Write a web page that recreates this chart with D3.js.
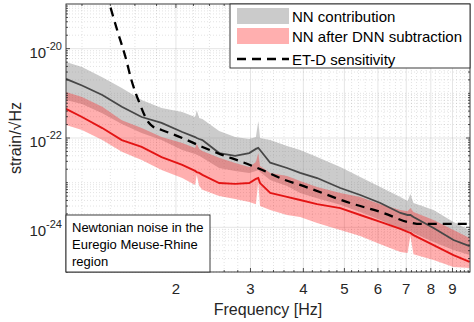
<!DOCTYPE html>
<html>
<head>
<meta charset="utf-8">
<script src="https://cdn.jsdelivr.net/npm/d3@7"></script>
<style>
  body { margin: 0; background: #fff; }
  svg { display: block; font-family: "Liberation Sans", Arial, sans-serif; }
</style>
</head>
<body>
<script>
const w = 474
const h = 322

// frequency grid [Hz] shared by the noise curves
const freq = [1.10, 1.20, 1.34, 1.49, 1.66, 1.85, 2.07, 2.22, 2.24, 2.27,
    2.31, 2.53, 2.76, 2.98, 3.09, 3.13, 3.16, 3.34, 3.66, 3.93,
    4.31, 4.89, 5.45, 6.08, 6.78, 7.05, 7.16, 7.28, 8.12, 9.05, 9.88]

// NN contribution: median and band
const nnMedian = [2.1e-21, 1.5e-21, 9.2e-22, 5.0e-22, 2.95e-22, 2.17e-22, 1.36e-22, 1.05e-22, 1.0e-22, 9.5e-23,
    9.0e-23, 4.6e-23, 4.0e-23, 4.6e-23, 5.7e-23, 6.0e-23, 5.4e-23, 2.8e-23, 2.13e-23, 1.65e-23,
    1.27e-23, 7.6e-24, 5.3e-24, 3.5e-24, 2.1e-24, 1.89e-24, 1.89e-24, 1.70e-24, 9.7e-25, 5.2e-25, 3.8e-25]
const nnUpper = [5.0e-21, 3.9e-21, 2.3e-21, 1.32e-21, 7.1e-22, 4.7e-22, 3.8e-22, 2.95e-22, 4.2e-22, 2.8e-22,
    2.66e-22, 1.43e-22, 1.05e-22, 9.5e-23, 1.05e-22, 2.4e-22, 1.0e-22, 9.0e-23, 6.6e-23, 5.4e-23,
    3.75e-23, 2.24e-23, 1.34e-23, 8.0e-24, 4.8e-24, 3.9e-24, 5.6e-24, 3.5e-24, 2.45e-24, 1.32e-24, 8.7e-25]
const nnLower = [7.1e-22, 5.8e-22, 3.6e-22, 2.06e-22, 1.29e-22, 9.0e-23, 5.4e-23, 4.4e-23, 4.2e-23, 4.0e-23,
    3.6e-23, 2.13e-23, 1.83e-23, 1.65e-23, 1.83e-23, 1.92e-23, 1.73e-23, 1.15e-23, 8.4e-24, 5.9e-24,
    4.5e-24, 3.2e-24, 2.2e-24, 1.46e-24, 9.2e-25, 8.3e-25, 8.3e-25, 7.5e-25, 4.7e-25, 3.1e-25, 2.4e-25]

// NN after DNN subtraction: median and band
const dnnMedian = [4.5e-22, 2.95e-22, 1.67e-22, 9.0e-23, 6.3e-23, 3.75e-23, 2.5e-23, 1.83e-23, 1.73e-23, 1.65e-23,
    1.49e-23, 9.8e-24, 9.4e-24, 9.8e-24, 1.21e-23, 1.27e-23, 9.8e-24, 5.9e-24, 4.8e-24, 4.1e-24,
    3.3e-24, 2.7e-24, 1.89e-24, 1.32e-24, 9.2e-25, 7.9e-25, 7.5e-25, 6.7e-25, 4.0e-25, 2.4e-25, 1.68e-25]
const dnnUpper = [1.07e-21, 8.3e-22, 5.0e-22, 2.5e-22, 1.67e-22, 1.05e-22, 7.7e-23, 6.0e-23, 7.4e-23, 5.7e-23,
    5.1e-23, 3.6e-23, 2.76e-23, 2.24e-23, 2.9e-23, 4.6e-23, 2.36e-23, 1.65e-23, 1.41e-23, 1.09e-23,
    8.0e-24, 5.9e-24, 4.8e-24, 3.3e-24, 2.45e-24, 2.3e-24, 2.7e-24, 2.2e-24, 1.46e-24, 8.7e-25, 5.8e-25]
const dnnLower = [1.95e-22, 1.51e-22, 9.0e-23, 4.9e-23, 3.2e-23, 1.92e-23, 1.27e-23, 8.9e-24, 1.49e-23, 8.4e-24,
    6.9e-24, 5.0e-24, 4.3e-24, 3.7e-24, 3.3e-24, 1.04e-23, 3.0e-24, 2.45e-24, 1.89e-24, 1.70e-24,
    1.25e-24, 8.7e-25, 6.4e-25, 4.2e-25, 2.8e-25, 2.66e-25, 6.4e-25, 2.5e-25, 1.86e-25, 1.30e-25, 1.23e-25]

// ET-D sensitivity curve
const etdFreq = [1.37, 1.46, 1.52, 1.57, 1.64, 1.72, 1.77, 1.85, 2.07, 2.31,
    2.57, 2.87, 3.20, 3.62, 3.93, 5.16, 6.18, 7.05, 7.56, 9.88]
const etdStrain = [1.76e-19, 2.24e-20, 6.5e-21, 1.99e-21, 6.1e-22, 2.28e-22, 1.76e-22, 1.51e-22, 1.0e-22, 6.3e-23,
    4.2e-23, 2.9e-23, 1.92e-23, 1.15e-23, 8.9e-24, 3.5e-24, 2.1e-24, 1.32e-24, 1.19e-24, 1.19e-24]

const xTicks = [2, 3, 4, 5, 6, 7, 8, 9]
const yTickExp = [-24, -22, -20]
const legendLabels = ["NN contribution", "NN after DNN subtraction", "ET-D sensitivity"]
const noteLines = ["Newtonian noise in the", "Euregio Meuse-Rhine", "region"]

const plot = { left: 66, top: 4, right: 470, bottom: 272 }
const axisColor = "#262626"

const svg = d3.select("body").append("svg")
    .attr("width", w)
    .attr("height", h)

const x = d3.scaleLog().domain([1.1, 9.9]).range([plot.left, plot.right])
const y = d3.scaleLog().domain([1e-25, 1e-19]).range([plot.bottom, plot.top])

svg.append("clipPath").attr("id", "clip")
    .append("rect")
    .attr("x", plot.left).attr("y", plot.top)
    .attr("width", plot.right - plot.left).attr("height", plot.bottom - plot.top)

// minor positions
let xMinor = []
for (let v = 1.2; v < 9.9; v += 0.2) {
    let r = Math.round(v * 10) / 10
    if (r % 1 !== 0) xMinor.push(r)
}
let yMinor = []
for (let e = -25; e < -19; e++) {
    for (let m = 1; m < 10; m++) {
        if (m === 1 && yTickExp.includes(e)) continue
        yMinor.push(m * Math.pow(10, e))
    }
}

const grid = svg.append("g")
grid.selectAll(".xminor").data(xMinor).enter().append("line")
    .attr("x1", d => x(d)).attr("x2", d => x(d))
    .attr("y1", plot.top).attr("y2", plot.bottom)
    .attr("stroke", axisColor).attr("stroke-opacity", 0.22)
    .attr("stroke-width", 0.6).attr("stroke-dasharray", "1,2")
grid.selectAll(".yminor").data(yMinor).enter().append("line")
    .attr("x1", plot.left).attr("x2", plot.right)
    .attr("y1", d => y(d)).attr("y2", d => y(d))
    .attr("stroke", axisColor).attr("stroke-opacity", 0.22)
    .attr("stroke-width", 0.6).attr("stroke-dasharray", "1,2")
grid.selectAll(".xmajor").data(xTicks).enter().append("line")
    .attr("x1", d => x(d)).attr("x2", d => x(d))
    .attr("y1", plot.top).attr("y2", plot.bottom)
    .attr("stroke", axisColor).attr("stroke-opacity", 0.15).attr("stroke-width", 0.8)
grid.selectAll(".ymajor").data(yTickExp).enter().append("line")
    .attr("x1", plot.left).attr("x2", plot.right)
    .attr("y1", d => y(Math.pow(10, d))).attr("y2", d => y(Math.pow(10, d)))
    .attr("stroke", axisColor).attr("stroke-opacity", 0.15).attr("stroke-width", 0.8)

const rows = freq.map((f, i) => ({
    f: f,
    nn: nnMedian[i], nnHi: nnUpper[i], nnLo: nnLower[i],
    dnn: dnnMedian[i], dnnHi: dnnUpper[i], dnnLo: dnnLower[i]
}))
const etd = etdFreq.map((f, i) => ({ f: f, v: etdStrain[i] }))

const g = svg.append("g").attr("clip-path", "url(#clip)")

const band = (hi, lo) => d3.area()
    .x(d => x(d.f))
    .y0(d => y(d[lo]))
    .y1(d => y(d[hi]))

g.append("path").datum(rows)
    .attr("d", band("nnHi", "nnLo"))
    .attr("fill", "#8c8c8c").attr("fill-opacity", 0.45)
g.append("path").datum(rows)
    .attr("d", band("dnnHi", "dnnLo"))
    .attr("fill", "#ff2020").attr("fill-opacity", 0.36)

g.append("path").datum(rows)
    .attr("d", d3.line().x(d => x(d.f)).y(d => y(d.nn)))
    .attr("fill", "none").attr("stroke", "#474747").attr("stroke-width", 1.8)
g.append("path").datum(rows)
    .attr("d", d3.line().x(d => x(d.f)).y(d => y(d.dnn)))
    .attr("fill", "none").attr("stroke", "#e31414").attr("stroke-width", 1.9)
g.append("path").datum(etd)
    .attr("d", d3.line().curve(d3.curveMonotoneX).x(d => x(d.f)).y(d => y(d.v)))
    .attr("fill", "none").attr("stroke", "#000").attr("stroke-width", 2.3)
    .attr("stroke-dasharray", "9,6")

// ticks on all four sides, pointing inwards
const ticks = svg.append("g").attr("stroke", axisColor).attr("stroke-width", 0.8)
xTicks.forEach(t => {
    ticks.append("line").attr("x1", x(t)).attr("x2", x(t)).attr("y1", plot.bottom).attr("y2", plot.bottom - 4)
    ticks.append("line").attr("x1", x(t)).attr("x2", x(t)).attr("y1", plot.top).attr("y2", plot.top + 4)
})
xMinor.forEach(t => {
    ticks.append("line").attr("x1", x(t)).attr("x2", x(t)).attr("y1", plot.bottom).attr("y2", plot.bottom - 2)
    ticks.append("line").attr("x1", x(t)).attr("x2", x(t)).attr("y1", plot.top).attr("y2", plot.top + 2)
})
yTickExp.forEach(e => {
    let yy = y(Math.pow(10, e))
    ticks.append("line").attr("x1", plot.left).attr("x2", plot.left + 4).attr("y1", yy).attr("y2", yy)
    ticks.append("line").attr("x1", plot.right).attr("x2", plot.right - 4).attr("y1", yy).attr("y2", yy)
})
yMinor.forEach(v => {
    let yy = y(v)
    ticks.append("line").attr("x1", plot.left).attr("x2", plot.left + 2).attr("y1", yy).attr("y2", yy)
    ticks.append("line").attr("x1", plot.right).attr("x2", plot.right - 2).attr("y1", yy).attr("y2", yy)
})

svg.append("rect")
    .attr("x", plot.left).attr("y", plot.top)
    .attr("width", plot.right - plot.left).attr("height", plot.bottom - plot.top)
    .attr("fill", "none").attr("stroke", axisColor).attr("stroke-width", 0.9)

// tick labels
svg.selectAll(".xlab").data(xTicks).enter().append("text")
    .attr("x", d => x(d)).attr("y", 294)
    .attr("text-anchor", "middle").attr("font-size", 15).attr("fill", axisColor)
    .text(d => d)

const ylab = svg.selectAll(".ylab").data(yTickExp).enter().append("text")
    .attr("x", 62).attr("y", d => y(Math.pow(10, d)) + 9)
    .attr("text-anchor", "end").attr("font-size", 15).attr("fill", axisColor)
ylab.append("tspan").text("10")
ylab.append("tspan").attr("dy", -8).attr("font-size", 11).text(d => d)

svg.append("text")
    .attr("x", (plot.left + plot.right) / 2).attr("y", 315)
    .attr("text-anchor", "middle").attr("font-size", 16).attr("fill", axisColor)
    .text("Frequency [Hz]")
svg.append("text")
    .attr("transform", `translate(21,${(plot.top + plot.bottom) / 2}) rotate(-90)`)
    .attr("text-anchor", "middle").attr("font-size", 16).attr("fill", axisColor)
    .text("strain/\u221AHz")

// legend
const legend = svg.append("g")
legend.append("rect")
    .attr("x", 230).attr("y", plot.top).attr("width", plot.right - 230).attr("height", 64)
    .attr("fill", "#fff").attr("stroke", axisColor).attr("stroke-width", 0.9)
const legendY = [16, 36, 59]
legend.append("rect").attr("x", 237).attr("y", legendY[0] - 8).attr("width", 52).attr("height", 16)
    .attr("fill", "#8c8c8c").attr("fill-opacity", 0.45)
legend.append("rect").attr("x", 237).attr("y", legendY[1] - 8).attr("width", 52).attr("height", 16)
    .attr("fill", "#ff2020").attr("fill-opacity", 0.36)
legend.append("line").attr("x1", 237).attr("x2", 289).attr("y1", legendY[2]).attr("y2", legendY[2])
    .attr("stroke", "#000").attr("stroke-width", 2.3).attr("stroke-dasharray", "9,6")
legend.selectAll(".ltxt").data(legendLabels).enter().append("text")
    .attr("x", 292).attr("y", (d, i) => legendY[i] + 5.5)
    .attr("font-size", 15).attr("fill", "#000")
    .text(d => d)

// annotation box
svg.append("rect")
    .attr("x", plot.left).attr("y", 215).attr("width", 210 - plot.left).attr("height", plot.bottom - 215)
    .attr("fill", "#fff").attr("stroke", axisColor).attr("stroke-width", 0.9)
svg.selectAll(".note").data(noteLines).enter().append("text")
    .attr("x", 72).attr("y", (d, i) => 232 + i * 17)
    .attr("font-size", 13).attr("fill", "#000")
    .text(d => d)
</script>
</body>
</html>
